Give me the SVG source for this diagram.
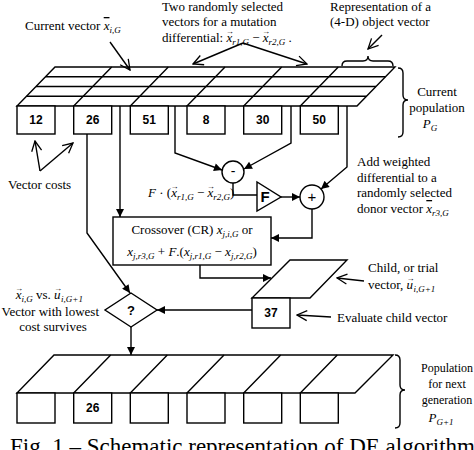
<svg xmlns="http://www.w3.org/2000/svg" width="474" height="450" viewBox="0 0 474 450">
<style>
.ln{fill:none;stroke:#000;stroke-width:1.4}
.sh{fill:#fff;stroke:#000;stroke-width:1.4}
.t{font-family:"Liberation Serif","Times New Roman",serif;font-size:13px;fill:#000}
.m{font-style:italic}
.ob{font-style:italic;text-decoration:overline}
.ar{font-size:8px;font-style:normal}
.s{font-size:9px;font-style:italic}
.n{font-family:"Liberation Sans",Arial,sans-serif;font-weight:bold;font-size:12px;fill:#000;text-anchor:middle}
.cap{font-family:"Liberation Serif","Times New Roman",serif;font-size:23px;fill:#000}
</style>
<defs>
<marker id="fa" viewBox="0 0 10 10" refX="10" refY="5" markerWidth="9" markerHeight="8" markerUnits="userSpaceOnUse" orient="auto"><path d="M0,0 L10,5 L0,10 z" fill="#000"/></marker>
<marker id="oa" viewBox="0 0 12 12" refX="11" refY="6" markerWidth="12" markerHeight="12" markerUnits="userSpaceOnUse" orient="auto"><path d="M1,1 L11,6 L1,11" fill="none" stroke="#000" stroke-width="1.3"/></marker>
</defs>

<g id="current-population">
<polygon class="sh" points="55,67 395,67 357,106 17,106"/>
<path class="ln" d="M45.5,76.75H385.5M36,86.5H376M26.5,96.25H366.5"/>
<path class="ln" d="M111.7,67L73.7,106M168.3,67L130.3,106M225,67L187,106M281.7,67L243.7,106M338.3,67L300.3,106"/>
<rect class="sh" x="17" y="106" width="38" height="28"/>
<rect class="sh" x="73.7" y="106" width="38" height="28"/>
<rect class="sh" x="130.3" y="106" width="38" height="28"/>
<rect class="sh" x="187" y="106" width="38" height="28"/>
<rect class="sh" x="243.7" y="106" width="38" height="28"/>
<rect class="sh" x="300.3" y="106" width="38" height="28"/>
<text class="n" x="36" y="124">12</text>
<text class="n" x="92.7" y="124">26</text>
<text class="n" x="149.3" y="124">51</text>
<text class="n" x="206" y="124">8</text>
<text class="n" x="262.7" y="124">30</text>
<text class="n" x="319.3" y="124">50</text>
</g>

<g id="minus">
<circle class="sh" cx="233" cy="172" r="11"/>
<text class="n" x="233" y="176" style="font-weight:normal;font-size:14px">-</text>
</g>
<g id="f-gain">
<polygon class="sh" points="257,182 257,211 281,197"/>
<text class="n" x="265" y="202" style="font-size:15px">F</text>
</g>
<g id="plus">
<circle class="sh" cx="312" cy="197" r="12"/>
<text class="n" x="312" y="202" style="font-weight:normal;font-size:15px">+</text>
</g>
<g id="crossover">
<rect class="sh" x="113" y="217" width="158" height="48"/>
<text class="t" x="192" y="234" text-anchor="middle">Crossover (CR) <tspan class="m">x</tspan><tspan class="s" dy="3">j,i,G</tspan><tspan dy="-3"> or</tspan></text>
<text class="t" x="192" y="256" text-anchor="middle"><tspan class="m">x</tspan><tspan class="s" dy="3">j,r3,G</tspan><tspan dy="-3"> + </tspan><tspan class="m">F</tspan>.(<tspan class="m">x</tspan><tspan class="s" dy="3">j,r1,G</tspan><tspan dy="-3"> − </tspan><tspan class="m">x</tspan><tspan class="s" dy="3">j,r2,G</tspan><tspan dy="-3">)</tspan></text>
</g>
<g id="child">
<polygon class="sh" points="290,260 347,260 310,298 252,298"/>
<rect class="sh" x="252" y="298" width="38" height="30"/>
<text class="n" x="271" y="317">37</text>
</g>
<g id="select">
<polygon class="sh" points="131,293 157,310 131,327 105,310"/>
<text class="n" x="131" y="315" style="font-size:13px">?</text>
</g>
<g id="next-population">
<polygon class="sh" points="54,355 393,355 355,393 17,393"/>
<path class="ln" d="M110.7,355L73.7,393M167.3,355L130.3,393M224,355L187,393M280.7,355L243.7,393M337.3,355L300.3,393"/>
<rect class="sh" x="17" y="393" width="38" height="30"/>
<rect class="sh" x="73.7" y="393" width="38" height="30"/>
<rect class="sh" x="130.3" y="393" width="38" height="30"/>
<rect class="sh" x="187" y="393" width="38" height="30"/>
<rect class="sh" x="243.7" y="393" width="38" height="30"/>
<rect class="sh" x="300.3" y="393" width="38" height="30"/>
<text class="n" x="92.7" y="412">26</text>
</g>

<g id="connectors">
<path class="ln" d="M120,106V217" marker-end="url(#fa)"/>
<path class="ln" d="M175,106V153L222,170" marker-end="url(#fa)"/>
<path class="ln" d="M291,106V143L244,169" marker-end="url(#fa)"/>
<path class="ln" d="M233,183V195H257"/>
<path class="ln" d="M281,197H300" marker-end="url(#fa)"/>
<path class="ln" d="M347,106V167L321,189" marker-end="url(#fa)"/>
<path class="ln" d="M312,209V238H271" marker-end="url(#fa)"/>
<path class="ln" d="M200,265V278H271" marker-end="url(#fa)"/>
<path class="ln" d="M252,310H157" marker-end="url(#fa)"/>
<path class="ln" d="M87,134V233L130,293" marker-end="url(#fa)"/>
<path class="ln" d="M131,327V355" marker-end="url(#fa)"/>
</g>

<g id="annotations">
<path class="ln" d="M110,42L130,70" marker-end="url(#oa)"/>
<path class="ln" d="M243,43L193,64" marker-end="url(#oa)"/>
<path class="ln" d="M243,43L307,64" marker-end="url(#oa)"/>
<path class="ln" d="M382,35L368,49" marker-end="url(#oa)"/>
<path class="ln" d="M40,171L35,141" marker-end="url(#oa)"/>
<path class="ln" d="M40,171L73,143" marker-end="url(#oa)"/>
<path class="ln" d="M364,281L337,278" marker-end="url(#oa)"/>
<path class="ln" d="M331,317L297,315" marker-end="url(#oa)"/>
<path class="ln" d="M342,66q0,-5 5,-5h16q5,0 5,-5q0,5 5,5h15q5,0 5,5"/>
<path class="ln" d="M398,68q5,0 5,5v22q0,5 5,5q-5,0 -5,5v27q0,5 -5,5"/>
<path class="ln" d="M395,355q5,0 5,5v25q0,5 5,5q-5,0 -5,5v28q0,5 -5,5"/>
</g>

<g id="labels">
<text class="t" x="25" y="30">Current vector <tspan class="ob">x</tspan><tspan class="s" dy="3">i,G</tspan></text>
<text class="t" x="162" y="11">Two randomly selected</text>
<text class="t" x="162" y="26">vectors for a mutation</text>
<text class="t" x="162" y="42">differential:  <tspan class="m">x</tspan><tspan class="ar" dx="-6.5" dy="-8">→</tspan><tspan class="s" dx="-1.5" dy="11">r1,G</tspan><tspan dy="-3"> − </tspan><tspan class="m">x</tspan><tspan class="ar" dx="-6.5" dy="-8">→</tspan><tspan class="s" dx="-1.5" dy="11">r2,G</tspan><tspan dy="-3">  .</tspan></text>
<text class="t" x="330" y="11">Representation of a</text>
<text class="t" x="330" y="26">(4-D) object vector</text>
<text class="t" x="437" y="96" text-anchor="middle">Current</text>
<text class="t" x="437" y="112" text-anchor="middle">population</text>
<text class="t" x="430" y="128" text-anchor="middle"><tspan class="m">P</tspan><tspan class="s" dy="3">G</tspan></text>
<text class="t" x="8" y="189">Vector costs</text>
<text class="t" x="148" y="197"><tspan class="m">F</tspan> · (<tspan class="m">x</tspan><tspan class="ar" dx="-6.5" dy="-8">→</tspan><tspan class="s" dx="-1.5" dy="11">r1,G</tspan><tspan dy="-3"> − </tspan><tspan class="m">x</tspan><tspan class="ar" dx="-6.5" dy="-8">→</tspan><tspan class="s" dx="-1.5" dy="11">r2,G</tspan><tspan dy="-3">)</tspan></text>
<text class="t" x="357" y="166">Add weighted</text>
<text class="t" x="357" y="182">differential to a</text>
<text class="t" x="357" y="197">randomly selected</text>
<text class="t" x="357" y="213">donor vector <tspan class="ob">x</tspan><tspan class="s" dy="3">r3,G</tspan></text>
<text class="t" x="368" y="272">Child, or trial</text>
<text class="t" x="368" y="289">vector, <tspan class="m">u</tspan><tspan class="ar" dx="-6.5" dy="-8">→</tspan><tspan class="s" dx="-1" dy="11">i,G+1</tspan></text>
<text class="t" x="337" y="322">Evaluate child vector</text>
<text class="t" x="15" y="299"><tspan class="m">x</tspan><tspan class="ar" dx="-6.5" dy="-8">→</tspan><tspan class="s" dx="-1.5" dy="11">i,G</tspan><tspan dy="-3"> vs. </tspan><tspan class="m">u</tspan><tspan class="ar" dx="-6.5" dy="-8">→</tspan><tspan class="s" dx="-1" dy="11">i,G+1</tspan></text>
<text class="t" x="99" y="316" text-anchor="end">Vector with lowest</text>
<text class="t" x="53" y="331" text-anchor="middle">cost survives</text>
<text class="t" x="447" y="372" text-anchor="middle" style="font-size:12px">Population</text>
<text class="t" x="447" y="388" text-anchor="middle" style="font-size:12px">for next</text>
<text class="t" x="447" y="404" text-anchor="middle" style="font-size:12px">generation</text>
<text class="t" x="441" y="422" text-anchor="middle"><tspan class="m">P</tspan><tspan class="s" dy="3">G+1</tspan></text>
<text class="cap" x="10" y="454">Fig. 1 – Schematic representation of DE algorithm</text>
</g>
</svg>
